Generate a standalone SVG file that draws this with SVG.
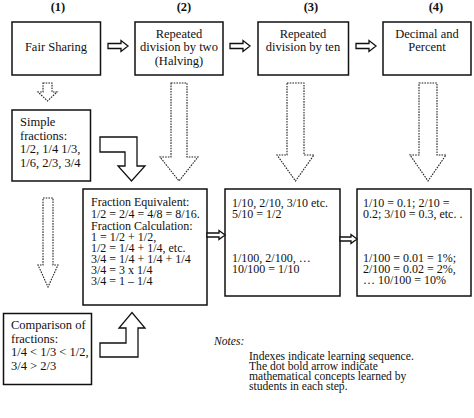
<svg xmlns="http://www.w3.org/2000/svg" width="474" height="418" viewBox="0 0 474 418">
<style>
text{font-family:"Liberation Serif","Times New Roman",serif;fill:#111}
.idx{font-size:12.5px;font-weight:bold;text-anchor:middle}
.t{font-size:12.5px}
.c{font-size:12.5px;text-anchor:middle}
.s{font-size:12px}
.n{font-size:11.6px}
.box{fill:#fff;stroke:#111;stroke-width:1.5}
.ha{fill:#fff;stroke:#111;stroke-width:1.3;stroke-linejoin:miter}
.da{fill:#fff;stroke:#222;stroke-width:1.1;stroke-dasharray:1.6 1.1}
</style>
<rect width="474" height="418" fill="#fff"/>
<g id="indexes">
<text class="idx" x="58" y="11">(1)</text>
<text class="idx" x="184" y="11">(2)</text>
<text class="idx" x="311" y="11">(3)</text>
<text class="idx" x="436" y="11">(4)</text>
</g>
<g id="fair-sharing">
<rect class="box" x="12" y="22" width="88.5" height="53"/>
<text class="c" x="56" y="51">Fair Sharing</text>
</g>
<g id="halving">
<rect class="box" x="135" y="22" width="88" height="53"/>
<text class="c" x="179" y="37.5">Repeated</text>
<text class="c" x="179" y="51">division by two</text>
<text class="c" x="179" y="65">(Halving)</text>
</g>
<g id="division-ten">
<rect class="box" x="258" y="22" width="90.5" height="53"/>
<text class="c" x="303" y="37.5">Repeated</text>
<text class="c" x="303" y="51">division by ten</text>
</g>
<g id="decimal-percent">
<rect class="box" x="383" y="22" width="88" height="53"/>
<text class="c" x="427" y="37.5">Decimal and</text>
<text class="c" x="427" y="51">Percent</text>
</g>
<g id="simple-fractions">
<rect class="box" x="12" y="110" width="78.5" height="71"/>
<text class="t" x="20" y="126">Simple</text>
<text class="t" x="20" y="139.5">fractions:</text>
<text class="t" x="20" y="153">1/2, 1/4 1/3,</text>
<text class="t" x="20" y="166.5">1/6, 2/3, 3/4</text>
</g>
<g id="fraction-calc">
<rect class="box" x="83" y="189" width="124" height="116"/>
<text class="s" x="91" y="206">Fraction Equivalent:</text>
<text class="s" x="91" y="217.5">1/2 = 2/4 = 4/8 = 8/16.</text>
<text class="s" x="91" y="229.5">Fraction Calculation:</text>
<text class="s" x="91" y="241">1 = 1/2 + 1/2,</text>
<text class="s" x="91" y="252">1/2 = 1/4 + 1/4, etc.</text>
<text class="s" x="91" y="263">3/4 = 1/4 + 1/4 + 1/4</text>
<text class="s" x="91" y="274">3/4 = 3 x 1/4</text>
<text class="s" x="91" y="285">3/4 = 1 – 1/4</text>
</g>
<g id="tenths">
<rect class="box" x="225" y="189" width="115" height="107"/>
<text class="s" x="232" y="207">1/10, 2/10, 3/10 etc.</text>
<text class="s" x="232" y="218">5/10 = 1/2</text>
<text class="s" x="232" y="262">1/100, 2/100, …</text>
<text class="s" x="232" y="273">10/100 = 1/10</text>
</g>
<g id="decimals">
<rect class="box" x="357" y="189" width="114" height="107"/>
<text class="s" x="363" y="207">1/10 = 0.1; 2/10 =</text>
<text class="s" x="363" y="218">0.2; 3/10 = 0.3, etc. .</text>
<text class="s" x="363" y="262">1/100 = 0.01 = 1%;</text>
<text class="s" x="363" y="273">2/100 = 0.02 = 2%,</text>
<text class="s" x="363" y="284">… 10/100 = 10%</text>
</g>
<g id="comparison">
<rect class="box" x="3.5" y="313.5" width="88" height="71"/>
<text class="t" x="11" y="329">Comparison of</text>
<text class="t" x="11" y="342.5">fractions:</text>
<text class="t" x="11" y="356">1/4 &lt; 1/3 &lt; 1/2,</text>
<text class="t" x="11" y="369.5">3/4 &gt; 2/3</text>
</g>
<g id="notes">
<text class="n" x="214" y="345" font-style="italic">Notes:</text>
<text class="n" x="249" y="360">Indexes indicate learning sequence.</text>
<text class="n" x="249" y="370">The dot bold arrow indicate</text>
<text class="n" x="249" y="380">mathematical concepts learned by</text>
<text class="n" x="249" y="390">students in each step.</text>
</g>
<g id="connectors">
<polygon class="ha" points="108,43.5 121,43.5 121,40.5 128,46 121,51.5 121,48.5 108,48.5"/>
<polygon class="ha" points="230,43.5 243,43.5 243,40.5 250,46 243,51.5 243,48.5 230,48.5"/>
<polygon class="ha" points="356,43.5 369,43.5 369,40.5 376,46 369,51.5 369,48.5 356,48.5"/>
<polygon class="ha" points="207,233 219,233 219,230.5 225,235 219,239.5 219,237 207,237"/>
<polygon class="ha" points="340,237 351,237 351,234.5 357,239 351,243.5 351,241 340,241"/>
<polygon class="ha" points="100,137 137,137 137,166 145,166 131.5,181 118,166 125,166 125,152 100,152"/>
<polygon class="ha" points="100,357 138,357 138,328 145,328 132,312.5 119,328 126,328 126,343 100,343"/>
<polygon class="da" points="43,83 52,83 52,92 57,92 47.5,101 38,92 43,92"/>
<polygon class="da" points="171,83 187,83 187,157 198,157 179,181 160,157 171,157"/>
<polygon class="da" points="287,83 304,83 304,155 314,155 295.5,181 277,155 287,155"/>
<polygon class="da" points="419,83 437,83 437,155 446,155 428,181 410,155 419,155"/>
<polygon class="da" points="43,198 53,198 53,265 58,265 48,287 38,265 43,265"/>
</g>
</svg>
